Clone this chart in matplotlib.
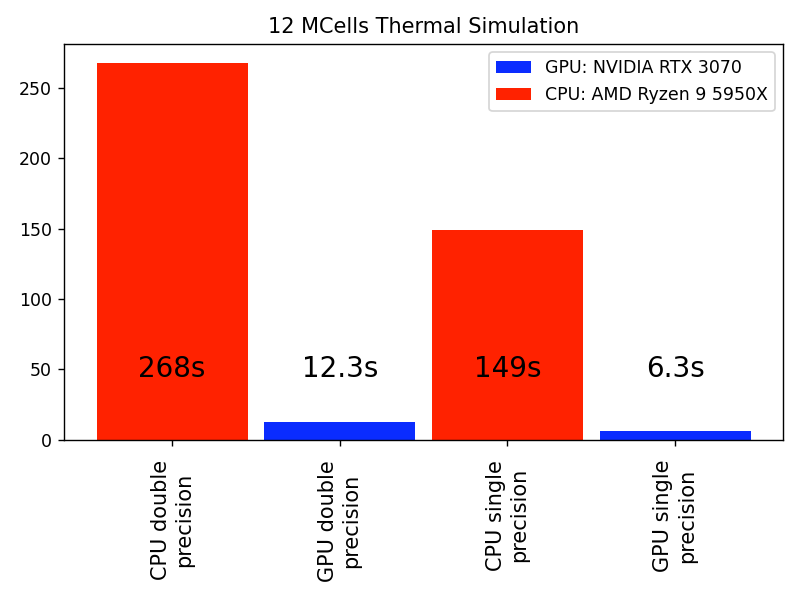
import matplotlib
matplotlib.use('Agg')
import matplotlib.pyplot as plt

# Bar data
labels = ["CPU double\nprecision", "GPU double\nprecision",
          "CPU single\nprecision", "GPU single\nprecision"]
gpu_pos = [1, 3]
gpu_times = [12.3, 6.3]
cpu_pos = [0, 2]
cpu_times = [268, 149]
annotations = ["268s", "12.3s", "149s", "6.3s"]

fig, ax = plt.subplots(figsize=(6.4, 4.8), dpi=125)
ax.bar(gpu_pos, gpu_times, width=0.9, color='#0a2cff', label='GPU: NVIDIA RTX 3070')
ax.bar(cpu_pos, cpu_times, width=0.9, color='#ff2200', label='CPU: AMD Ryzen 9 5950X')

for i, txt in enumerate(annotations):
    ax.text(i, 50, txt, ha='center', va='center', fontsize=16)

ax.set_xticks(range(len(labels)))
ax.set_xticklabels(labels, rotation=90, fontsize=12)
ax.tick_params(axis='x', pad=8)
ax.set_title("12 MCells Thermal Simulation")
ax.legend(loc='upper right')

plt.subplots_adjust(left=0.08, right=0.979, top=0.927, bottom=0.267)
plt.savefig('out.png')
